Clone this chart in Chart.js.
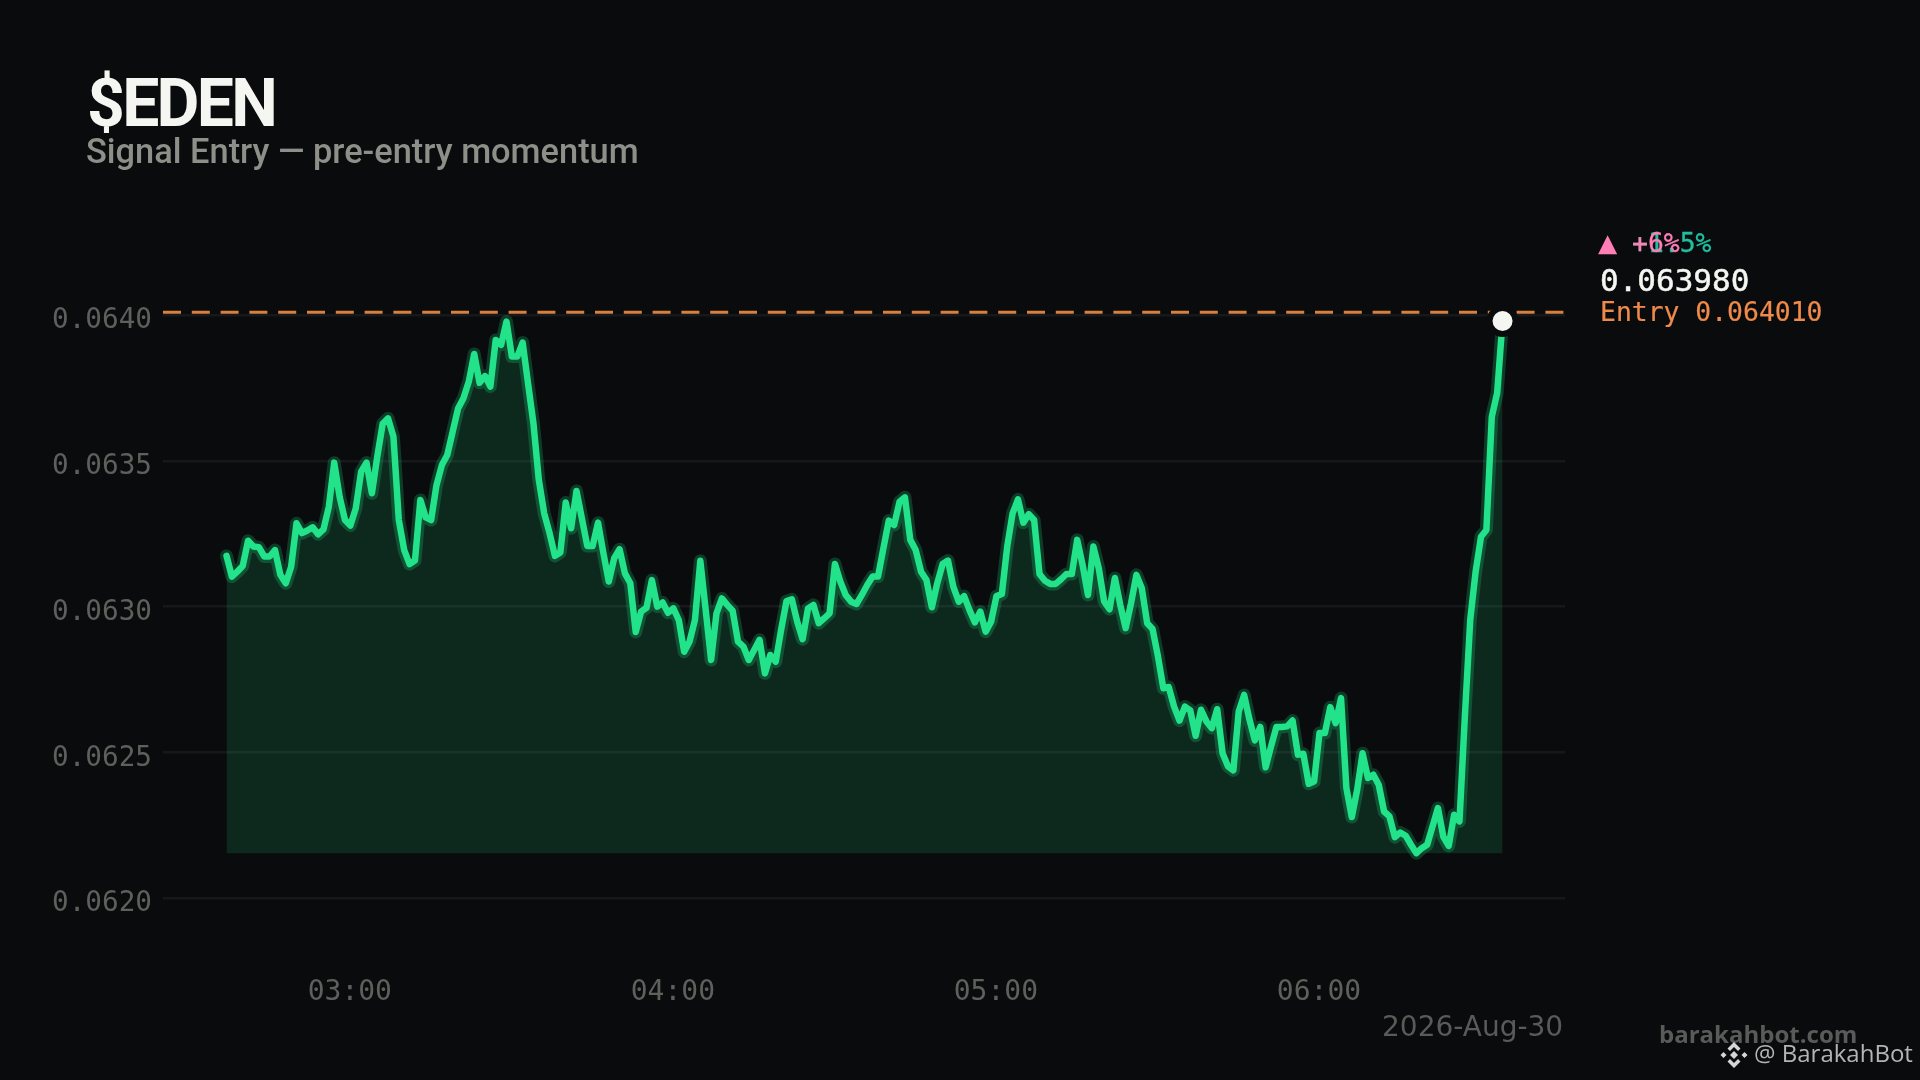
<!DOCTYPE html>
<html>
<head>
<meta charset="utf-8">
<title>$EDEN</title>
<script src="https://cdn.jsdelivr.net/npm/chart.js@4"></script>
<style>
  html, body { margin: 0; padding: 0; background: #0a0b0d; }
  #wrap { position: relative; width: 1920px; height: 1080px; overflow: hidden; }
  canvas { position: absolute; left: 0; top: 0; }
  .t { position: absolute; white-space: pre; line-height: 1; }
  .mono { font-family: "DejaVu Sans Mono", monospace; }
</style>
</head>
<body>
<div id="wrap">
  <canvas id="chart" width="1920" height="1080"></canvas>
  <div class="t" style="left:87px;top:71px;font:700 66px/1 Roboto;letter-spacing:-2.700px;color:#f5f5f2">$EDEN</div>
  <div class="t" style="left:86px;top:134px;font:500 34.400px/1 Roboto;color:#8f8f8a">Signal Entry — pre-entry momentum</div>

  <div class="t mono" style="left:1632px;top:230px;font-size:26.400px;-webkit-text-stroke:0.3px #1fbfa0;color:#1fbfa0">+1.5%</div>
  <div class="t mono" style="left:1632px;top:230px;font-size:26.400px;-webkit-text-stroke:0.3px #ff7eb6;color:#ff7eb6">+6%</div>
  <div class="t mono" style="left:1598px;top:226px;font-size:32px;color:#ff7eb6">▲</div>
  <div class="t mono" style="left:1600px;top:265px;font-size:31px;-webkit-text-stroke:0.5px #f5f5f2;color:#f5f5f2">0.063980</div>
  <div class="t mono" style="left:1600px;top:299px;font-size:26.400px;-webkit-text-stroke:0.2px #f08a4b;color:#f08a4b">Entry 0.064010</div>

  <div class="t" style="left:1382px;top:1013px;font:400 28px/1 'DejaVu Sans';color:#5a5a58">2026-Aug-30</div>
  <div class="t" style="left:1659px;top:1022px;font:700 24px/1 'Open Sans';color:#5a5a58">barakahbot.com</div>
  <svg style="position:absolute;left:1720px;top:1041px" width="28" height="28" viewBox="0 0 28 28" fill="#d6d6d6">
    <path d="M14 1L20.500 7.500 18 10 14 6 10 10 7.500 7.500ZM14 27L20.500 20.500 18 18 14 22 10 18 7.500 20.500ZM0.500 14L3.500 11 6.500 14 3.500 17ZM21.500 14L24.500 11 27.500 14 24.500 17ZM14 10L18 14 14 18 10 14Z"/>
  </svg>
  <div class="t" style="left:1754px;top:1041px;font:400 24px/1 'Open Sans';color:#b4b4b4">@ BarakahBot</div>
</div>
<script>
// one close per minute, 02:37 to 06:34
const startMinute = 157.1;
const prices = [
  0.063174, 0.063103, 0.063120, 0.063139, 0.063226, 0.063206, 0.063204, 0.063172, 0.063172, 0.063194,
  0.063109, 0.063080, 0.063137, 0.063286, 0.063252, 0.063261, 0.063272, 0.063248, 0.063265, 0.063343,
  0.063494, 0.063377, 0.063297, 0.063278, 0.063337, 0.063463, 0.063494, 0.063389, 0.063515, 0.063627,
  0.063646, 0.063583, 0.063297, 0.063194, 0.063146, 0.063158, 0.063366, 0.063306, 0.063297, 0.063417,
  0.063486, 0.063520, 0.063600, 0.063680, 0.063715, 0.063772, 0.063867, 0.063768, 0.063791, 0.063755,
  0.063915, 0.063898, 0.063978, 0.063858, 0.063858, 0.063906, 0.063766, 0.063629, 0.063435, 0.063320,
  0.063252, 0.063174, 0.063186, 0.063357, 0.063269, 0.063397, 0.063303, 0.063208, 0.063208, 0.063288,
  0.063183, 0.063086, 0.063166, 0.063197, 0.063114, 0.063080, 0.062913, 0.062983, 0.062996, 0.063091,
  0.063000, 0.063014, 0.062979, 0.062994, 0.062954, 0.062845, 0.062880, 0.062954, 0.063157, 0.062988,
  0.062817, 0.062977, 0.063028, 0.063006, 0.062986, 0.062880, 0.062863, 0.062817, 0.062851, 0.062886,
  0.062771, 0.062834, 0.062811, 0.062920, 0.063019, 0.063025, 0.062948, 0.062888, 0.062994, 0.063006,
  0.062943, 0.062960, 0.062977, 0.063146, 0.063086, 0.063040, 0.063017, 0.063009, 0.063040, 0.063074,
  0.063103, 0.063103, 0.063200, 0.063295, 0.063280, 0.063360, 0.063375, 0.063229, 0.063194, 0.063120,
  0.063091, 0.062998, 0.063080, 0.063146, 0.063158, 0.063068, 0.063017, 0.063036, 0.062988, 0.062946,
  0.062983, 0.062914, 0.062948, 0.063036, 0.063043, 0.063206, 0.063320, 0.063368, 0.063288, 0.063317,
  0.063297, 0.063112, 0.063089, 0.063078, 0.063078, 0.063094, 0.063112, 0.063112, 0.063229, 0.063143,
  0.063040, 0.063206, 0.063132, 0.063018, 0.062991, 0.063098, 0.063006, 0.062926, 0.063012, 0.063109,
  0.063063, 0.062943, 0.062923, 0.062829, 0.062720, 0.062724, 0.062657, 0.062609, 0.062657, 0.062644,
  0.062557, 0.062646, 0.062606, 0.062583, 0.062648, 0.062497, 0.062452, 0.062438, 0.062640, 0.062697,
  0.062612, 0.062541, 0.062587, 0.062449, 0.062520, 0.062587, 0.062587, 0.062589, 0.062609, 0.062492,
  0.062495, 0.062392, 0.062400, 0.062566, 0.062566, 0.062655, 0.062600, 0.062686, 0.062377, 0.062278,
  0.062372, 0.062497, 0.062412, 0.062423, 0.062389, 0.062297, 0.062280, 0.062209, 0.062225, 0.062214,
  0.062183, 0.062154, 0.062171, 0.062183, 0.062246, 0.062309, 0.062211, 0.062179, 0.062286, 0.062263,
  0.062623, 0.062955, 0.063120, 0.063240, 0.063263, 0.063651, 0.063733, 0.063980
];
const entryPrice = 0.064010;
const lastPrice = 0.063980;
const yTicks = [0.0620, 0.0625, 0.0630, 0.0635, 0.0640];
const xTicks = [180, 240, 300, 360];
const xTickLabels = ['03:00', '04:00', '05:00', '06:00'];

const axisMin = 145.3;
const axisMax = 405.7;
const points = prices.map((p, i) => ({ x: startMinute + i, y: p }));

// the price labels sit a little under their grid lines in the original
const nudgeYLabels = {
  id: 'nudgeYLabels',
  beforeDraw(chart) {
    chart.scales.y.getLabelItems().forEach(item => { item.options.translation[1] += 6; });
  }
};

new Chart(document.getElementById('chart').getContext('2d'), {
  type: 'line',
  plugins: [nudgeYLabels],
  data: {
    datasets: [
      { data: [{ x: points[points.length - 1].x, y: lastPrice }], showLine: false, pointRadius: 13, pointBorderWidth: 6,
        pointBackgroundColor: '#f5f5f2', pointBorderColor: '#0a0b0d', order: 0 },
      { data: points, borderColor: '#22e38a', borderWidth: 6.500, borderJoinStyle: 'round', borderCapStyle: 'round',
        pointRadius: 0, tension: 0, order: 1 },
      { data: points, borderColor: 'rgba(34,227,138,0.22)', borderWidth: 13, borderJoinStyle: 'round', borderCapStyle: 'round',
        pointRadius: 0, tension: 0, order: 2 },
      { data: points, borderColor: 'transparent', borderWidth: 0, pointRadius: 0, tension: 0, order: 3,
        fill: { value: Math.min(...prices) }, backgroundColor: 'rgba(34,227,138,0.14)' },
      { data: [{ x: axisMin, y: entryPrice }, { x: axisMax, y: entryPrice }], borderColor: '#d9803f', borderWidth: 3,
        borderDash: [18, 10.800], pointRadius: 0, order: 4 }
    ]
  },
  options: {
    responsive: false,
    animation: false,
    devicePixelRatio: 1,
    layout: { padding: { top: 205, right: 355, left: 0, bottom: 0 } },
    plugins: { legend: { display: false }, tooltip: { enabled: false } },
    scales: {
      x: {
        type: 'linear', min: axisMin, max: axisMax,
        grid: { display: false }, border: { display: false },
        afterBuildTicks: s => { s.ticks = xTicks.map(v => ({ value: v })); },
        afterFit: s => { s.height = 112; },
        ticks: {
          maxRotation: 0, autoSkip: false, padding: 0, color: '#5f5f5c',
          font: { family: 'DejaVu Sans Mono', size: 28 },
          callback: v => xTickLabels[xTicks.indexOf(v)]
        }
      },
      y: {
        min: 0.06176, max: 0.064378,
        grid: { color: '#17181b', lineWidth: 2.5, drawTicks: false }, border: { display: false },
        afterBuildTicks: s => { s.ticks = yTicks.map(v => ({ value: v })); },
        afterFit: s => { s.width = 163; },
        ticks: {
          padding: 11, color: '#5f5f5c',
          font: { family: 'DejaVu Sans Mono', size: 27.700 },
          callback: v => v.toFixed(4)
        }
      }
    }
  }
});
</script>
</body>
</html>
